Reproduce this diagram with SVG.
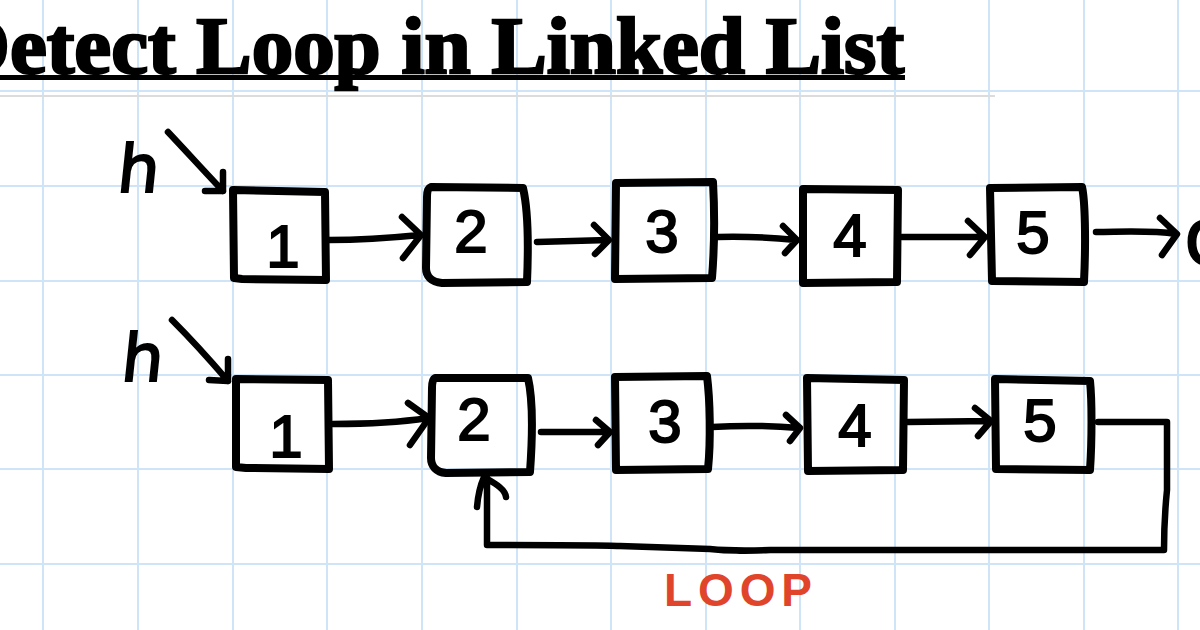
<svg xmlns="http://www.w3.org/2000/svg" width="1200" height="630" viewBox="0 0 1200 630">
<style>
.grid line{stroke:#cfe5f7;stroke-width:2}
.box{fill:none;stroke:#000;stroke-width:8;stroke-linejoin:round;stroke-linecap:round}
.lbl{font-family:"Liberation Sans",Arial,sans-serif;font-size:60px;fill:#000;stroke:#000;stroke-width:2;text-anchor:middle}
.ln{fill:none;stroke:#000;stroke-width:6.5;stroke-linecap:round;stroke-linejoin:round}
.h{font-family:"DejaVu Sans","Liberation Sans",sans-serif;font-size:66px;fill:#000;stroke:#000;stroke-width:2}
</style>
<rect width="1200" height="630" fill="#fff"/>
<g class="grid">
<line x1="43" y1="0" x2="43" y2="630"/><line x1="138" y1="0" x2="138" y2="630"/><line x1="233" y1="0" x2="233" y2="630"/><line x1="327" y1="0" x2="327" y2="630"/><line x1="422" y1="0" x2="422" y2="630"/><line x1="517" y1="0" x2="517" y2="630"/><line x1="611" y1="0" x2="611" y2="630"/><line x1="706" y1="0" x2="706" y2="630"/><line x1="800" y1="0" x2="800" y2="630"/><line x1="895" y1="0" x2="895" y2="630"/><line x1="989" y1="0" x2="989" y2="630"/><line x1="1084" y1="0" x2="1084" y2="630"/><line x1="1178" y1="0" x2="1178" y2="630"/>
<line x1="0" y1="91" x2="1200" y2="91"/><line x1="0" y1="186" x2="1200" y2="186"/><line x1="0" y1="281" x2="1200" y2="281"/><line x1="0" y1="375" x2="1200" y2="375"/><line x1="0" y1="469" x2="1200" y2="469"/><line x1="0" y1="564" x2="1200" y2="564"/>
</g>
<line x1="0" y1="96" x2="995" y2="96" stroke="#dcdcdc" stroke-width="2"/>
<g id="title">
<text x="-50" y="73" font-family="'Liberation Serif','Times New Roman',serif" font-weight="bold" font-size="80" stroke="#000" stroke-width="2.5" textLength="954" lengthAdjust="spacingAndGlyphs">Detect Loop in Linked List</text>
<rect x="0" y="75" width="905" height="5" fill="#000"/>
</g>
<g id="row1">
<g id="h1"><text class="h" x="118" y="192" transform="skewX(-6)" transform-origin="140 170">h</text></g>
<g id="r1n1"><path class="box" d="M233,190 L325,192 L326,280 L242,279 L234,278 Z"/><text class="lbl" x="283" y="267">1</text></g>
<g id="r1n2"><path class="box" d="M431,187 L523,188 C527,205 529,235 527,282 L442,283 C431,282 426,276 426,268 L427,197 C427,191 428,188 431,187 Z"/><text class="lbl" x="471" y="252">2</text></g>
<g id="r1n3"><path class="box" d="M616,183 L713,182 C714,200 715,240 712,278 L615,279 Z"/><text class="lbl" x="662" y="252">3</text></g>
<g id="r1n4"><path class="box" d="M803,189 L898,190 L897,282 L803,283 Z"/><text class="lbl" x="850" y="256">4</text></g>
<g id="r1n5"><path class="box" d="M990,188 L1082,187 C1085,200 1086,240 1084,282 L992,281 Z"/><text class="lbl" x="1033" y="253">5</text></g>
<g id="null"><text x="1184" y="264" font-family="'DejaVu Sans',sans-serif" font-size="78" fill="#000" stroke="#000" stroke-width="1.5">φ</text></g>
</g>
<g id="row2">
<g id="h2"><text class="h" x="122" y="381" transform="skewX(-6)" transform-origin="145 360">h</text></g>
<g id="r2n1"><path class="box" d="M236,379 L328,380 L329,469 L246,468 L236,467 Z"/><text class="lbl" x="286" y="457">1</text></g>
<g id="r2n2"><path class="box" d="M435,378 L528,378 C532,395 533,430 530,472 L446,473 C436,472 431,466 431,458 L432,388 C432,382 433,379 435,378 Z"/><text class="lbl" x="474" y="440">2</text></g>
<g id="r2n3"><path class="box" d="M615,377 L707,376 C710,400 711,440 708,469 L616,470 Z"/><text class="lbl" x="665" y="442">3</text></g>
<g id="r2n4"><path class="box" d="M807,378 L904,380 L903,470 L808,471 Z"/><text class="lbl" x="855" y="446">4</text></g>
<g id="r2n5"><path class="box" d="M995,379 L1090,381 C1092,400 1092,440 1090,470 L996,469 Z"/><text class="lbl" x="1040" y="441">5</text></g>
</g>
<g id="connectors">
<path class="ln" d="M168,132 C185,150 205,172 223,191 M223,172 L223,191 L205,191"/>
<path class="ln" d="M172,320 C190,338 210,360 228,381 M228,359 L228,381 L209,380"/>
<path class="ln" d="M329,240 C360,240 390,238 420,235 M402,217 L421,235 L403,258"/>
<path class="ln" d="M537,242 L608,240 M594,225 L609,240 L595,254"/>
<path class="ln" d="M718,237 C750,236 775,238 796,240 M783,226 L797,240 L785,253"/>
<path class="ln" d="M902,237 L985,237 M968,221 L985,237 L970,255"/>
<path class="ln" d="M1096,232 C1120,232 1150,230 1176,234 M1160,218 L1177,234 L1162,255"/>
<path class="ln" d="M333,424 C365,424 395,423 428,418 M408,403 L429,418 L410,445"/>
<path class="ln" d="M541,432 L609,432 M596,420 L610,432 L598,445"/>
<path class="ln" d="M712,427 C745,425 775,426 799,428 M786,415 L800,428 L790,441"/>
<path class="ln" d="M908,422 L990,421 M975,408 L991,421 L978,436"/>
<path class="ln" d="M1098,422 L1167,422 L1167,490 C1165,510 1164,530 1164,550 L770,550 C740,551 730,551 710,549 L620,546 C600,545 560,545 487,545 L487,478 M477,507 C478,495 480,486 484,477 C492,482 505,488 506,497"/>
</g>
<g id="loop-label"><text x="664" y="606" font-family="'Liberation Sans',Arial,sans-serif" font-weight="bold" font-size="46" fill="#e0452b" textLength="148" lengthAdjust="spacing">LOOP</text></g>
</svg>
